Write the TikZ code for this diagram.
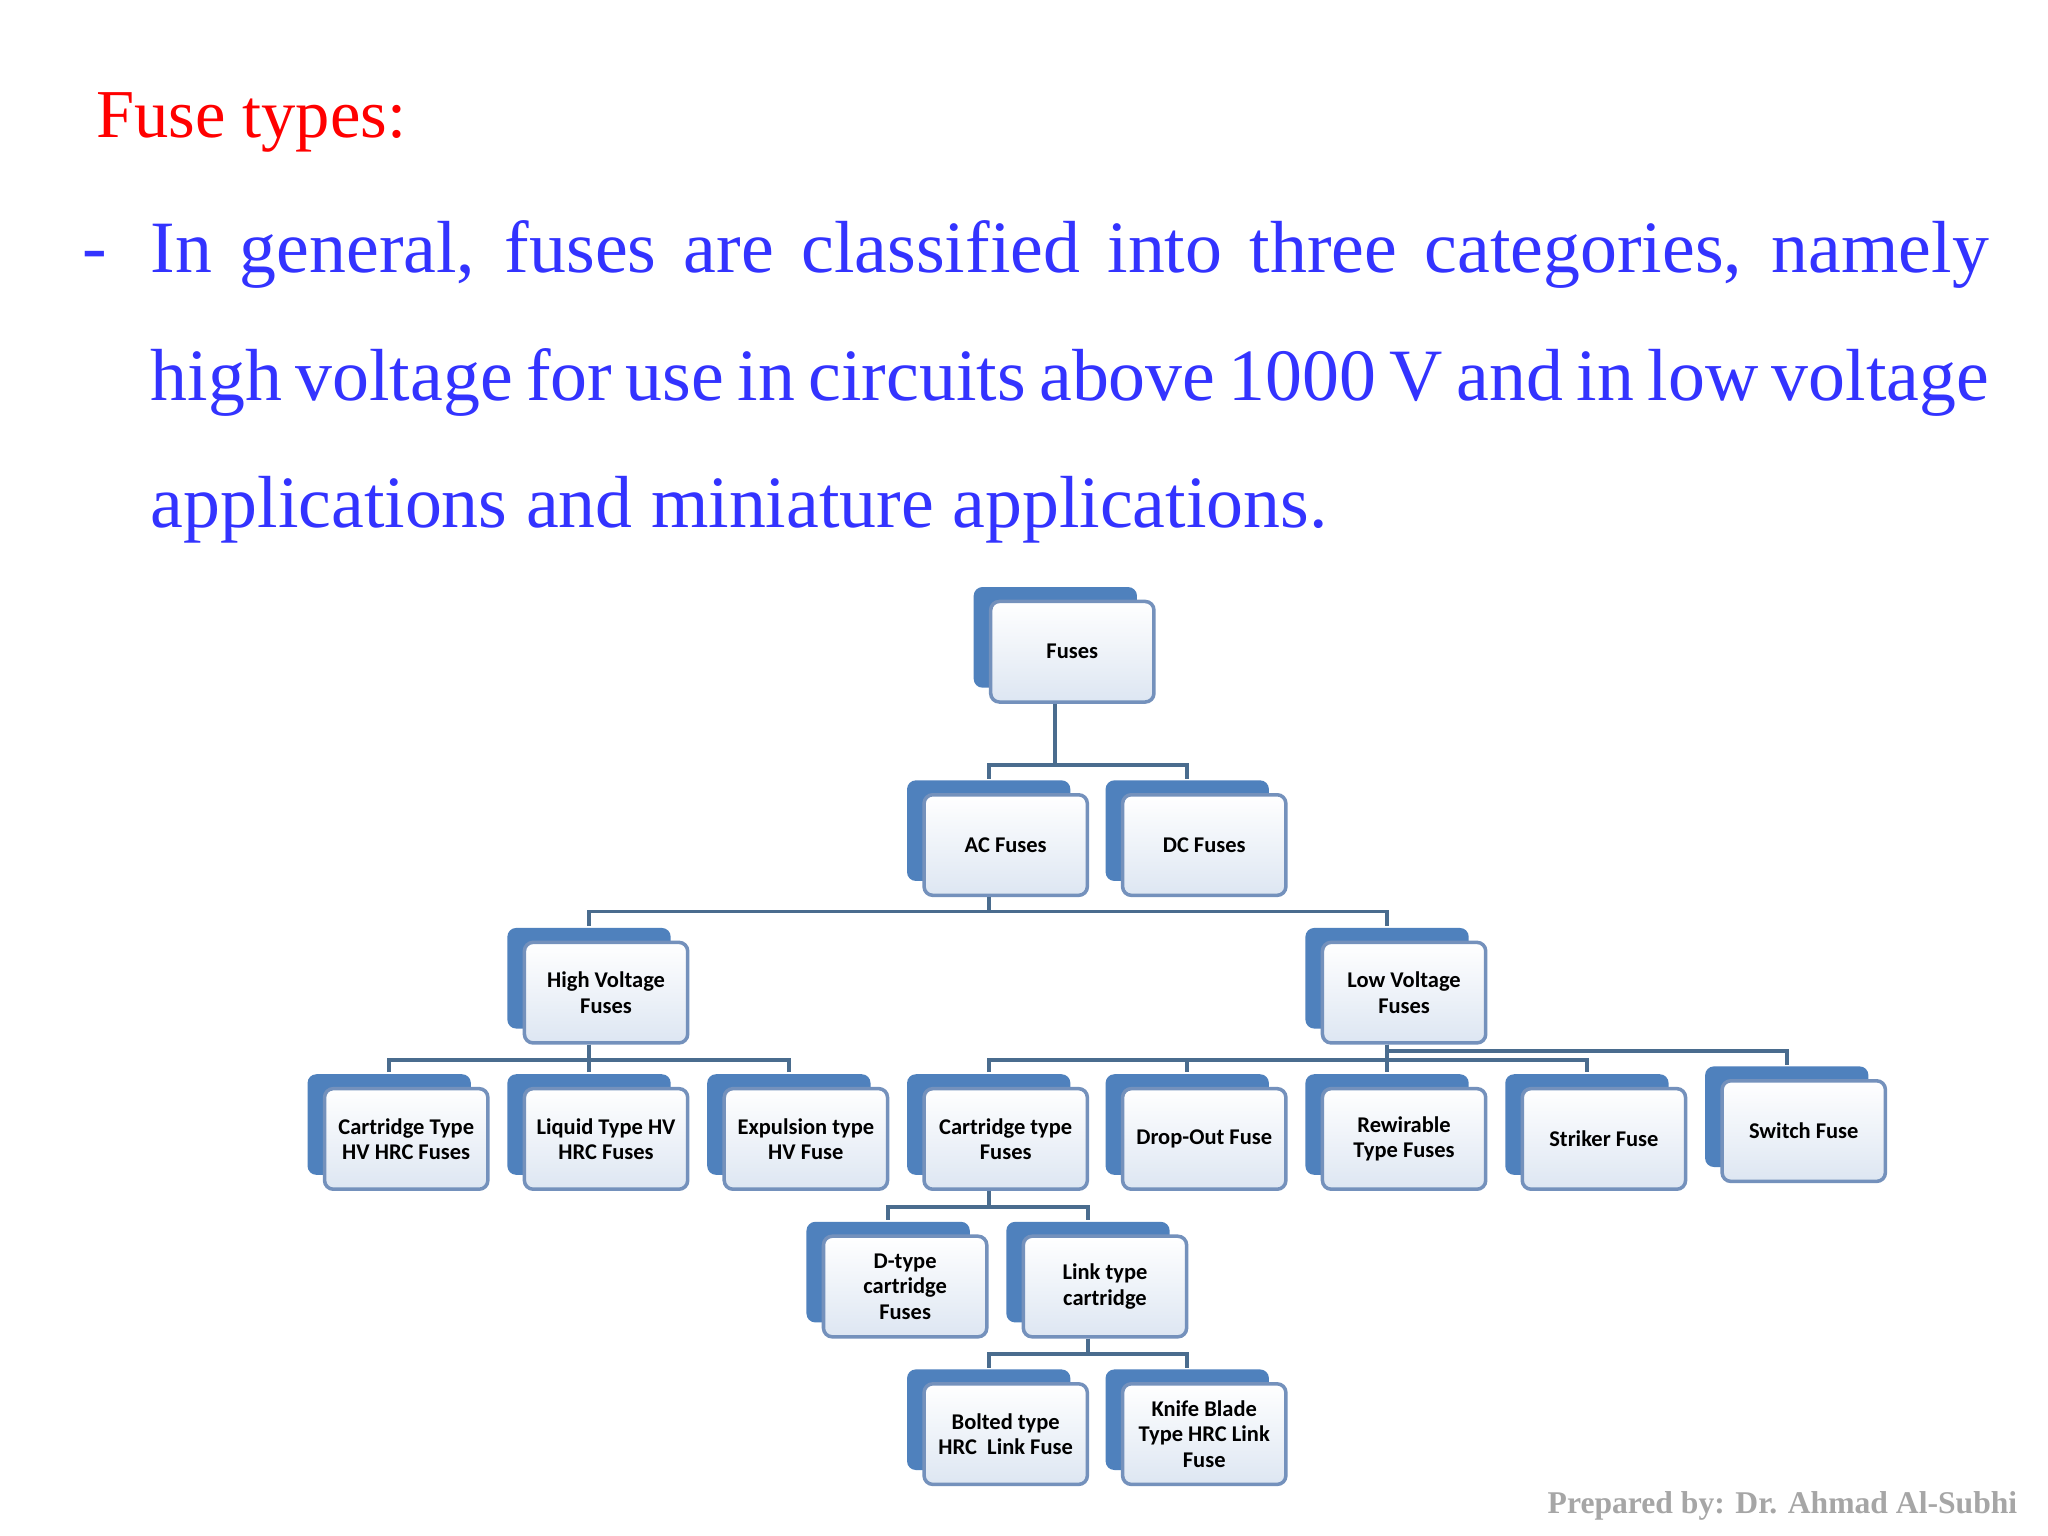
\documentclass[tikz,border=0pt]{standalone}
\usepackage{fontspec}
\setmainfont{Liberation Serif}
\newfontfamily\boxfont{Carlito}
\begin{document}
\begin{tikzpicture}[x=0.01306cm,y=-0.01306cm,
  backbox/.style={draw=none,fill=bk,rounded corners=2.5pt,minimum width=1.633cm,minimum height=1.006cm},
  frontbox/.style={draw=fr,line width=1pt,rounded corners=2.5pt,top color=white,bottom color=lb,minimum width=1.633cm,minimum height=1.006cm,inner sep=1pt,align=center,font=\boxfont\bfseries\fontsize{6.4}{7.2}\selectfont},
  conn/.style={draw=ln,line width=1.1pt}]
\definecolor{bk}{HTML}{4F81BD}
\definecolor{fr}{HTML}{7491BC}
\definecolor{lb}{HTML}{DDE6F2}
\definecolor{ln}{HTML}{4A6C8E}
\definecolor{tb}{HTML}{3333FF}
\newcommand\fbx[3]{\node[backbox,xshift=-0.17cm,yshift=0.144cm] at (#2) {}; \node[frontbox] (#1) at (#2) {#3};}
\newcommand\lnk[3]{\draw[conn] ([xshift=-0.17cm]#1.south) -- ++(0,#3) -| ([xshift=-0.17cm,yshift=0.144cm]#2.north);}
\useasboundingbox (0,0) rectangle (1568,1176);
\fill[white] (0,0) rectangle (1568,1176);
\node[anchor=west,text=red,font=\fontsize{19.5}{22}\selectfont] (title) at (64,94) {Fuse types:};
\node[anchor=west,text=tb,font=\fontsize{21}{24}\selectfont] (dash) at (54,200) {-};
\node[anchor=north west,text=tb,text width=18.38cm,align=justify,inner sep=0pt,font=\fontsize{21}{36.4}\selectfont] (body) at (115,168) {\hyphenpenalty=10000 In general, fuses are classified into three categories, namely\linebreak high voltage for use in circuits above 1000 V and in low voltage\linebreak applications and miniature applications.};
\fbx{fuses}{821,499}{Fuses}
\fbx{ac}{770,647}{AC Fuses}
\fbx{dc}{922,647}{DC Fuses}
\fbx{hv}{464,760}{High Voltage\\Fuses}
\fbx{lv}{1075,760}{Low Voltage\\Fuses}
\fbx{c1}{311,872}{Cartridge Type\\HV HRC Fuses}
\fbx{c2}{464,872}{Liquid Type HV\\HRC Fuses}
\fbx{c3}{617,872}{Expulsion type\\HV Fuse}
\fbx{c4}{770,872}{Cartridge type\\Fuses}
\fbx{c5}{922,872}{Drop-Out Fuse}
\fbx{c6}{1075,872}{Rewirable\\Type Fuses}
\fbx{c7}{1228,872}{Striker Fuse}
\fbx{c8}{1381,866}{Switch Fuse}
\fbx{d1}{693,985}{D-type\\cartridge\\Fuses}
\fbx{d2}{846,985}{Link type\\cartridge}
\fbx{e1}{770,1098}{Bolted type\\HRC~ Link Fuse}
\fbx{e2}{922,1098}{Knife Blade\\Type HRC Link\\Fuse}
\lnk{fuses}{ac}{47}\lnk{fuses}{dc}{47}
\lnk{ac}{hv}{11}\lnk{ac}{lv}{11}
\lnk{hv}{c1}{12}\lnk{hv}{c2}{12}\lnk{hv}{c3}{12}
\lnk{lv}{c4}{12}\lnk{lv}{c5}{12}\lnk{lv}{c6}{12}\lnk{lv}{c7}{12}\lnk{lv}{c8}{5}
\lnk{c4}{d1}{12}\lnk{c4}{d2}{12}
\lnk{d2}{e1}{12}\lnk{d2}{e2}{12}
\node[anchor=east,text=gray!70,font=\bfseries\fontsize{9}{10}\selectfont] (foot) at (1554,1153) {Prepared by: Dr. Ahmad Al-Subhi};
\end{tikzpicture}
\end{document}
